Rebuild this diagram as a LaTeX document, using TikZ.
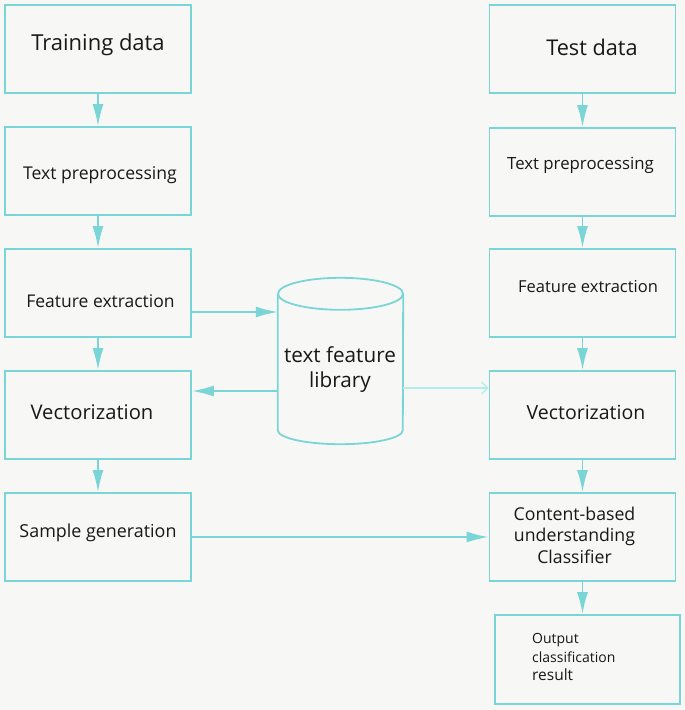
\documentclass[tikz,border=0pt]{standalone}
\usepackage{fontspec}
\setmainfont{Open Sans}
\usetikzlibrary{arrows.meta,positioning}
\definecolor{bgcol}{RGB}{247,247,245}
\definecolor{linecol}{RGB}{122,214,214}
\definecolor{lightcol}{RGB}{178,236,236}
\definecolor{txtcol}{RGB}{24,24,24}
\tikzset{
	box/.style={draw=linecol, line width=1.8pt, minimum width=186pt, minimum height=88pt, inner sep=0pt},
	lbl/.style={text=txtcol, inner sep=0pt, align=center},
	arr/.style={draw=linecol, line width=1.8pt, -{Latex[length=22pt,width=11pt]}},
}
\begin{document}
\begin{tikzpicture}[x=1pt,y=-1pt]
			\fill[bgcol] (0,0) rectangle (685,710);
			
			% left column
			\node[box] (tr) at (98,49) {};
			\node[box] (ltp) at (98,171) {};
			\node[box] (lfe) at (98,293) {};
			\node[box] (lvec) at (98,415) {};
			\node[box] (sg) at (98,537) {};
			\node[lbl, font=\fontsize{22}{26}\selectfont] (trt) at (98,45) {Training data};
			\node[lbl, font=\fontsize{17.6}{21}\selectfont] (ltpt) at (100,175) {Text preprocessing};
			\node[lbl, font=\fontsize{17.5}{21}\selectfont] (lfet) at (100.5,301) {Feature extraction};
			\node[lbl, font=\fontsize{20.2}{24}\selectfont] (lvect) at (92,412) {Vectorization};
			\node[lbl, font=\fontsize{17.9}{21}\selectfont] (sgt) at (98,533) {Sample generation};
			
			% right column
			\node[box] (td) at (582.5,49) {};
			\node[box] (rtp) at (582.5,172) {};
			\node[box] (rfe) at (582.5,293) {};
			\node[box] (rvec) at (582.5,415) {};
			\node[box] (clf) at (582.5,537) {};
			\node[box, minimum width=185pt, minimum height=89pt] (out) at (587.5,659.5) {};
			\node[lbl, font=\fontsize{21.7}{26}\selectfont] (tdt) at (592,47) {Test data};
			\node[lbl, font=\fontsize{16.8}{20}\selectfont] (rtpt) at (580.5,165) {Text preprocessing};
			\node[lbl, font=\fontsize{16.5}{20}\selectfont] (rfet) at (588,287) {Feature extraction};
			\node[lbl, font=\fontsize{19.5}{23}\selectfont] (rvect) at (586,412) {Vectorization};
			\node[lbl, font=\fontsize{17.7}{21.5}\selectfont] (clft) at (574.5,535) {Content-based\\understanding\\Classifier};
			\node[lbl, font=\fontsize{14}{18.5}\selectfont, align=left, anchor=west] (outt) at (532,657) {Output\\classification\\{\fontsize{15.5}{18.5}\selectfont result}};
			
			% text feature library
			\node[minimum width=125pt, minimum height=136pt, inner sep=0pt] (lib) at (340.5,362) {};
			\draw[linecol, line width=1.8pt] (lib.north west) -- (lib.south west)
				arc[start angle=180, end angle=360, x radius=62.5pt, y radius=14pt] -- (lib.north east);
			\draw[linecol, line width=1.8pt] (lib.north) ellipse[x radius=62.5pt, y radius=16pt];
			\node[lbl, font=\fontsize{20.7}{25}\selectfont] (libt) at (340,370) {text feature\\library};
			
			\foreach \a/\b in {tr/ltp,ltp/lfe,lfe/lvec,lvec/sg,td/rtp,rtp/rfe,rfe/rvec,rvec/clf,clf/out}{
				\draw[arr] (\a.south) -- (\a.south |- \b.north);
			}
			
			\draw[arr] ([yshift=-19pt]lfe.east) -- ([yshift=-19pt]lfe.east -| lib.west);
			\draw[arr] ([yshift=24pt]lvec.east -| lib.west) -- ([yshift=24pt]lvec.east);
			\draw[lightcol, line width=1.2pt, -{Straight Barb[length=6pt,width=12pt]}] ([yshift=-26pt]lib.east) -- ([yshift=-26pt]lib.east -| rvec.west);
			\draw[arr] (sg.east) -- (clf.west);
		\end{tikzpicture}
\end{document}
